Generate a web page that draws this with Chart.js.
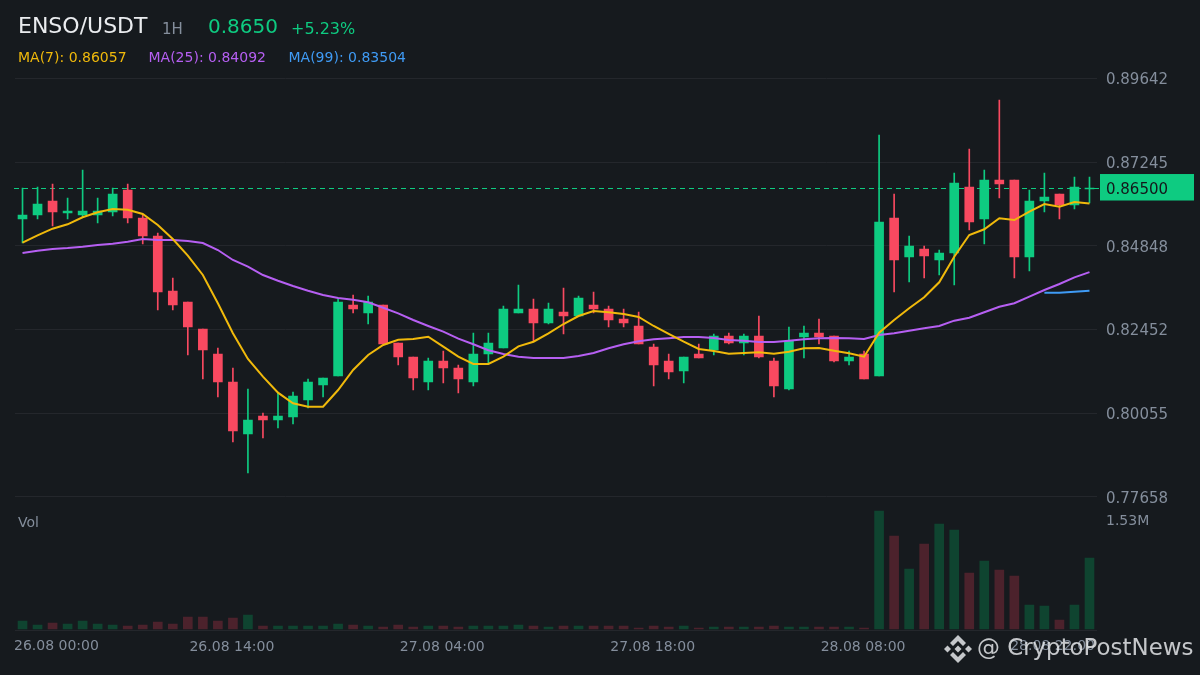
<!DOCTYPE html>
<html>
<head>
<meta charset="utf-8">
<style>html,body{margin:0;padding:0;background:#161a1e}canvas{display:block}</style>
<script src="https://cdn.jsdelivr.net/npm/chart.js@4"></script>
</head>
<body>
<canvas id="c" width="1200" height="675"></canvas>
<script>
const categories = [
'26.08 00:00','26.08 01:00','26.08 02:00','26.08 03:00','26.08 04:00','26.08 05:00','26.08 06:00','26.08 07:00','26.08 08:00','26.08 09:00','26.08 10:00','26.08 11:00',
'26.08 12:00','26.08 13:00','26.08 14:00','26.08 15:00','26.08 16:00','26.08 17:00','26.08 18:00','26.08 19:00','26.08 20:00','26.08 21:00','26.08 22:00','26.08 23:00',
'27.08 00:00','27.08 01:00','27.08 02:00','27.08 03:00','27.08 04:00','27.08 05:00','27.08 06:00','27.08 07:00','27.08 08:00','27.08 09:00','27.08 10:00','27.08 11:00',
'27.08 12:00','27.08 13:00','27.08 14:00','27.08 15:00','27.08 16:00','27.08 17:00','27.08 18:00','27.08 19:00','27.08 20:00','27.08 21:00','27.08 22:00','27.08 23:00',
'28.08 00:00','28.08 01:00','28.08 02:00','28.08 03:00','28.08 04:00','28.08 05:00','28.08 06:00','28.08 07:00','28.08 08:00','28.08 09:00','28.08 10:00','28.08 11:00',
'28.08 12:00','28.08 13:00','28.08 14:00','28.08 15:00','28.08 16:00','28.08 17:00','28.08 18:00','28.08 19:00','28.08 20:00','28.08 21:00','28.08 22:00','28.08 23:00'];
const opens = [
.85613,.85727,.86128,.85785,.85727,.85727,.85813,.86443,.85641,.85126,.83551,.83236,
.82463,.81747,.80945,.79456,.79971,.79857,.79943,.80429,.80859,.81117,.83150,.82921,
.83150,.82062,.81661,.80945,.81547,.81346,.80945,.81747,.81919,.82921,.83036,.82635,
.82950,.82835,.83150,.83036,.82749,.82549,.81947,.81547,.81260,.81747,.81861,.82262,
.82062,.82262,.81547,.80744,.82234,.82348,.82262,.81547,.81747,.81117,.85641,.84525,
.84754,.84439,.84639,.86529,.85613,.86730,.86730,.84525,.86128,.86329,.86014,.86472];
const highs = [
.86501,.86529,.86615,.86214,.87016,.86214,.86501,.86615,.85727,.85212,.83923,.83236,
.82463,.81919,.81346,.80744,.80057,.80630,.80659,.81031,.81060,.83322,.83436,.83408,
.83150,.82062,.81661,.81632,.81833,.81432,.82348,.82348,.83121,.83723,.83322,.83207,
.83637,.83408,.83522,.83121,.83036,.82950,.82033,.81747,.81661,.82033,.82320,.82348,
.82320,.82835,.81632,.82520,.82549,.82749,.82262,.81833,.81833,.88018,.86329,.85126,
.84840,.84725,.86930,.87617,.87016,.89021,.86730,.86443,.86930,.86329,.86816,.86816];
const lows = [
.84926,.85613,.85412,.85613,.85670,.85498,.85699,.85498,.84897,.83007,.83007,.81718,
.81031,.80516,.79227,.78339,.79341,.79628,.79742,.80200,.80516,.81117,.82921,.82606,
.82033,.81432,.80716,.80716,.80916,.80630,.80830,.81461,.81919,.82921,.82119,.82606,
.82320,.82835,.82921,.82520,.82520,.82033,.80830,.81031,.80916,.81632,.81718,.82033,
.81718,.81632,.80516,.80716,.81632,.82033,.81518,.81432,.81031,.81117,.83522,.83809,
.83923,.84009,.83723,.85298,.84897,.86214,.83923,.84124,.85813,.85613,.85899,.86071];
const closes = [
.85727,.86042,.85813,.85842,.85842,.85842,.86329,.85641,.85126,.83522,.83150,.82520,
.81861,.80945,.79542,.79857,.79857,.79971,.80544,.80945,.81060,.83236,.83036,.83236,
.82033,.81661,.81060,.81547,.81346,.81031,.81747,.82062,.83036,.83036,.82635,.83036,
.82835,.83351,.83036,.82721,.82635,.82033,.81432,.81231,.81661,.81632,.82262,.82062,
.82262,.81661,.80830,.82119,.82348,.82234,.81547,.81661,.81031,.85527,.84439,.84840,
.84553,.84639,.86644,.85527,.86730,.86615,.84525,.86128,.86243,.86014,.86529,.86500];
const volumes = [
113000,57000,85000,71000,113000,71000,57000,42500,57000,99000,71000,170000,
170000,113000,156000,198000,42500,42500,42500,42500,42500,71000,57000,42500,
28000,57000,28000,42500,42500,28000,42500,42500,42500,57000,42500,28000,
42500,42500,42500,42500,42500,14000,42500,28000,42500,14000,28000,28000,
28000,28000,42500,28000,28000,28000,28000,28000,14000,1672000,1318000,850000,
1204000,1488000,1403000,793000,963000,836000,751000,340000,326000,128000,340000,1006000];
const ma7 = [
.84934,.85146,.85335,.85461,.85662,.85805,.85899,.85879,.85756,.85441,.85040,.84562,
.84009,.83199,.82340,.81604,.81097,.80639,.80335,.80238,.80238,.80716,.81289,.81718,
.82005,.82156,.82176,.82242,.81956,.81670,.81461,.81461,.81670,.81967,.82099,.82340,
.82606,.82835,.82978,.82941,.82892,.82806,.82549,.82320,.82099,.81890,.81833,.81755,
.81776,.81796,.81755,.81813,.81910,.81919,.81841,.81767,.81670,.82357,.82721,.83056,
.83371,.83800,.84533,.85155,.85318,.85633,.85584,.85822,.86042,.85965,.86100,.86057];
const ma25 = [
.84639,.84705,.84754,.84782,.84820,.84868,.84906,.84963,.85040,.85012,.85012,.84983,
.84926,.84725,.84439,.84247,.84009,.83846,.83694,.83560,.83437,.83351,.83302,.83227,
.83073,.82912,.82721,.82549,.82386,.82185,.82025,.81853,.81747,.81670,.81632,.81632,
.81632,.81690,.81776,.81910,.82025,.82111,.82168,.82197,.82234,.82234,.82205,.82148,
.82128,.82091,.82091,.82128,.82168,.82197,.82205,.82197,.82176,.82291,.82340,.82414,
.82483,.82549,.82701,.82786,.82941,.83101,.83199,.83388,.83580,.83751,.83943,.84092];
const ma99Tail = [.83502,.83502,.83531,.83560];
const priceTicks = [.89642,.87245,.865,.84848,.82452,.80055,.77658];
const volumeTickLabel = 1530000;
const lastPrice = .865;

const GREEN='#0ecb81', RED='#f84960', DIM_G='#0f4430', DIM_R='#4c222c', GRAY='#848e9c', GRID='#24272c';
const FONT='"DejaVu Sans"';
const up = closes.map((c,i)=>c>=opens[i]);
const colours = up.map(u=>u?GREEN:RED);
const ma99 = categories.map((_,i)=>{const k=i-(categories.length-ma99Tail.length);return k>=0?ma99Tail[k]:null;});
const VOL_MIN=-14167, VOL_MAX=7801833, PRICE_MIN=.73843, PRICE_MAX=.89642;

const overlay = {
  id:'overlay',
  beforeDraw(chart){
    const ctx=chart.ctx, yS=chart.scales.y;
    ctx.save();
    ctx.fillStyle='#161a1e';ctx.fillRect(0,0,1200,675);
    const y=yS.getPixelForValue(lastPrice);
    ctx.fillStyle=GREEN;ctx.fillRect(1100,y-14,94,26.5);
    ctx.restore();
  },
  beforeDatasetsDraw(chart){
    const ctx=chart.ctx, y=Math.round(chart.scales.y.getPixelForValue(lastPrice))+.5;
    ctx.save();
    ctx.strokeStyle=GREEN;ctx.lineWidth=1;ctx.setLineDash([5,4]);
    ctx.beginPath();ctx.moveTo(14,y);ctx.lineTo(1100,y);ctx.stroke();
    ctx.restore();
  },
  afterDraw(chart){
    const ctx=chart.ctx;
    const t=(s,x,y,size,col,align)=>{ctx.font=size+'px '+FONT;ctx.fillStyle=col;ctx.textAlign=align||'left';ctx.textBaseline='middle';ctx.fillText(s,x,y);};
    ctx.save();
    t('ENSO/USDT',18,27.5,22,'#eaecef');
    t('1H',162,30,15,GRAY);
    t('0.8650',208,28,20,GREEN);
    t('+5.23%',291,29.5,16,GREEN);
    t('MA(7): 0.86057',18,58,14,'#f0b90b');
    t('MA(25): 0.84092',148.5,58,14,'#b65ff2');
    t('MA(99): 0.83504',288.5,58,14,'#3f9bf5');
    t('Vol',18,523,14,GRAY);
    t('1.53M',1106,chart.scales.vol.getPixelForValue(volumeTickLabel),14,GRAY);
    t(categories[0],14,646.5,14,GRAY);
    t(categories[70],1095,646.5,14,GRAY,'right');
    // watermark
    ctx.fillStyle='rgba(236,238,240,.82)';
    const cx=958,cy=649;
    const poly=(p)=>{ctx.beginPath();p.forEach((q,i)=>i?ctx.lineTo(cx+q[0],cy+q[1]):ctx.moveTo(cx+q[0],cy+q[1]));ctx.closePath();ctx.fill();};
    poly([[0,-14],[8,-6],[5,-3],[0,-8],[-5,-3],[-8,-6]]);
    poly([[0,14],[8,6],[5,3],[0,8],[-5,3],[-8,6]]);
    poly([[-14,0],[-10.5,-3.5],[-7,0],[-10.5,3.5]]);
    poly([[14,0],[10.5,-3.5],[7,0],[10.5,3.5]]);
    poly([[0,-3.5],[3.5,0],[0,3.5],[-3.5,0]]);
    t('@ CryptoPostNews',977,649.5,22.9,'rgba(236,238,240,.82)');
    ctx.restore();
  }
};

new Chart(document.getElementById('c').getContext('2d'),{
  type:'bar',
  plugins:[overlay],
  data:{
    labels:categories,
    datasets:[
      {type:'line',label:'MA(7)',data:ma7,yAxisID:'y',borderColor:'#f0b90b',borderWidth:2,pointRadius:0,tension:0,order:1},
      {type:'line',label:'MA(25)',data:ma25,yAxisID:'y',borderColor:'#b65ff2',borderWidth:2,pointRadius:0,tension:0,order:2},
      {type:'line',label:'MA(99)',data:ma99,yAxisID:'y',borderColor:'#3f9bf5',borderWidth:2,pointRadius:0,tension:0,order:0},
      {label:'Body',data:opens.map((o,i)=>[Math.min(o,closes[i]),Math.max(o,closes[i])]),yAxisID:'y',backgroundColor:colours,barThickness:9,grouped:false,order:3},
      {label:'Wick',data:lows.map((l,i)=>[l,highs[i]]),yAxisID:'y',backgroundColor:colours,barThickness:1,grouped:false,order:4},
      {label:'Vol',data:volumes,yAxisID:'vol',backgroundColor:up.map(u=>u?DIM_G:DIM_R),barThickness:9,grouped:false,order:5}
    ]
  },
  options:{
    responsive:false,animation:false,devicePixelRatio:1,
    layout:{padding:{left:15,right:0,top:78.3,bottom:0}},
    plugins:{legend:{display:false},tooltip:{enabled:false},title:{display:false}},
    scales:{
      x:{
        offset:true,
        grid:{display:false},border:{display:false},
        afterFit(s){s.height=45;},
        ticks:{autoSkip:false,maxRotation:0,minRotation:0,padding:1,labelOffset:-1,color:GRAY,font:{family:FONT,size:14},
          callback(v,i){return (i%14===0&&i!==0&&i!==70)?categories[i]:'';}}
      },
      vol:{
        position:'right',min:VOL_MIN,max:VOL_MAX,weight:0,
        afterBuildTicks(s){s.ticks=[{value:VOL_MIN},{value:volumeTickLabel}];},
        afterFit(s){s.width=0;},
        border:{display:false},
        grid:{drawTicks:false,color(c){return c.tick&&c.tick.value===VOL_MIN?GRID:'rgba(0,0,0,0)';}},
        ticks:{display:false}
      },
      y:{
        position:'right',min:PRICE_MIN,max:PRICE_MAX,weight:1,
        afterBuildTicks(s){s.ticks=priceTicks.map(v=>({value:v}));},
        afterFit(s){s.width=103;},
        border:{display:false},
        grid:{drawTicks:false,color(c){return c.tick&&c.tick.value===lastPrice?'rgba(0,0,0,0)':GRID;}},
        ticks:{padding:9,labelOffset:2,font:{family:FONT,size:15},
          color(c){return c.tick&&c.tick.value===lastPrice?'#14171a':GRAY;},
          callback(v){return v.toFixed(5);}}
      }
    }
  }
});
</script>
</body>
</html>
